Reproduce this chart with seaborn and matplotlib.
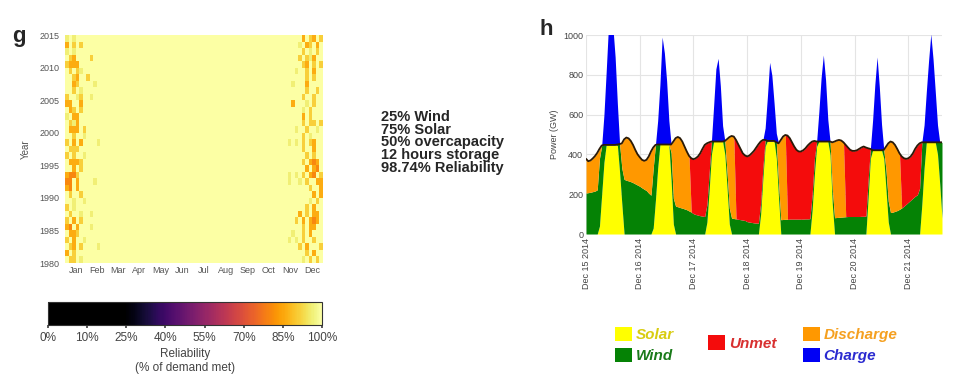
import numpy as np
import pandas as pd
import matplotlib
matplotlib.use("Agg")
import matplotlib.pyplot as plt
import seaborn as sns
from matplotlib.colors import ListedColormap
from matplotlib.patches import Patch

# ==============================
# Panel g data: reliability per 5-day bin and year
# ==============================
years = np.arange(2014, 1979, -1)  # top row first
# characters are reliability levels, first 10 bins (Jan-Feb) and last 14 bins (Oct-Dec)
jan_rows = [
    "1.1.......", "3.2.2.....", "1.1.......", ".23....2..", "2333......",
    ".2.21.....", "..23..2...", "..32....1.", "..2.1.....", "2..12..1..",
    "33..3.....", ".32.2.....", "1.33......", ".213......", ".333.2....",
    "..2..1....", "2.3.3....1", ".222......", "2.2..1....", ".3332.....",
    "..3.2.....", "3442......", "44.3....1.", "34.3......", ".2..2.....",
    "..1..1....", "2.1.......", ".2..1..1..", "2.3.2.....", "34.3...1..",
    ".332......", "2.3..1....", ".23.2....1", "3.2.......", ".22.1.....",
]
dec_rows = [
    "........3.23.2", ".......1.32.3.", "........2.1.2.", ".......2.213..", "........23.2.2",
    "......1..2.3..", ".........2.2..", ".....1...3....", ".........2..2.", "........2..2..",
    ".....3...1.2..", "........1.2...", "........3.2...", "........2.22.2", "......1..2..1.",
    "........2.1...", "....1.1.2.23..", "........2..3..", ".........2.2..", "........2.343.",
    ".........3.34.", "....1.1.2.34.2", "....1..1.2..33", "..........2..3", "...........3.3",
    "..........1.2.", ".........2.3..", ".......3.2.33.", "......2.3.343.", "........2.33..",
    ".....1..2.3...", "....1.1.2..2..", ".......2.3...2", ".........2.3..", "........1.2.2.",
]
level_pct = {".": 100, "1": 96, "2": 91, "3": 86, "4": 80}

cbar_vals = [0, 10, 25, 40, 55, 70, 85, 100]
months = ["Jan", "Feb", "Mar", "Apr", "May", "Jun", "Jul", "Aug", "Sep", "Oct", "Nov", "Dec"]
month_days = [31, 28, 31, 30, 31, 30, 31, 31, 30, 31, 30, 31]

mix_text = "25% Wind\n75% Solar\n50% overcapacity\n12 hours storage\n98.74% Reliability"

# ==============================
# Panel h data: hourly power, Dec 15 - Dec 21 2014 (GW)
# ==============================
demand = [
    378, 366, 370, 380, 392, 408, 428, 445, 448, 448, 448, 448, 448, 448, 450, 452, 456, 476, 485, 481, 468, 448, 423, 401,
    386, 373, 368, 373, 390, 415, 435, 448, 450, 450, 450, 450, 450, 450, 450, 465, 482, 488, 482, 465, 440, 415, 393, 381,
    376, 381, 390, 406, 428, 448, 456, 461, 465, 465, 465, 465, 465, 465, 468, 477, 487, 493, 490, 473, 451, 428, 406, 395,
    390, 395, 406, 418, 435, 451, 465, 473, 473, 468, 468, 468, 468, 461, 456, 473, 490, 498, 495, 482, 461, 440, 423, 415,
    415, 421, 431, 445, 456, 465, 468, 465, 465, 465, 465, 465, 465, 465, 461, 465, 470, 473, 470, 461, 448, 435, 423, 418,
    418, 421, 428, 435, 440, 435, 431, 428, 421, 421, 421, 421, 421, 423, 440, 456, 465, 461, 448, 428, 406, 390, 381, 378,
    381, 390, 406, 428, 445, 456, 461, 461, 461, 461, 461, 461, 461, 461, 461, 461,
]
solar = [
    0, 0, 0, 0, 0, 0, 40, 200, 360, 448, 448, 448, 448, 448, 445, 310, 150, 0, 0, 0, 0, 0, 0, 0,
    0, 0, 0, 0, 0, 0, 30, 170, 330, 450, 450, 450, 450, 450, 270, 50, 0, 0, 0, 0, 0, 0, 0, 0,
    0, 0, 0, 0, 0, 0, 60, 220, 400, 465, 465, 465, 465, 465, 400, 230, 50, 0, 0, 0, 0, 0, 0, 0,
    0, 0, 0, 0, 0, 0, 100, 280, 440, 468, 468, 468, 468, 380, 180, 0, 0, 0, 0, 0, 0, 0, 0, 0,
    0, 0, 0, 0, 0, 120, 300, 440, 465, 465, 465, 465, 465, 400, 150, 0, 0, 0, 0, 0, 0, 0, 0, 0,
    0, 0, 0, 0, 0, 0, 180, 380, 421, 421, 421, 421, 421, 380, 220, 60, 0, 0, 0, 0, 0, 0, 0, 0,
    0, 0, 0, 0, 0, 0, 150, 330, 461, 461, 461, 461, 461, 400, 250, 80,
]
wind = [
    206, 208, 210, 213, 216, 222, 340, 245, 88, 0, 0, 0, 0, 0, 5, 142, 180, 275, 270, 267, 263, 258, 252, 246,
    240, 232, 225, 218, 205, 195, 300, 278, 120, 0, 0, 0, 0, 0, 140, 130, 140, 137, 133, 130, 126, 122, 116, 110,
    102, 98, 95, 92, 90, 88, 88, 88, 65, 0, 0, 0, 0, 0, 68, 80, 80, 80, 78, 76, 74, 72, 70, 68,
    62, 60, 58, 56, 55, 55, 55, 55, 33, 0, 0, 0, 0, 81, 75, 72, 73, 74, 74, 75, 75, 75, 75, 75,
    75, 75, 76, 76, 77, 77, 78, 25, 0, 0, 0, 0, 0, 65, 80, 82, 83, 84, 85, 86, 87, 88, 88, 88,
    88, 88, 88, 89, 89, 90, 90, 48, 0, 0, 0, 0, 0, 43, 100, 105, 108, 110, 114, 118, 124, 131, 140, 150,
    160, 170, 180, 190, 197, 230, 311, 131, 0, 0, 0, 0, 0, 61, 211, 381,
]
discharge = [
    172, 158, 160, 167, 176, 186, 48, 0, 0, 0, 0, 0, 0, 0, 0, 0, 126, 201, 215, 214, 205, 190, 171, 155,
    146, 141, 143, 155, 185, 220, 105, 0, 0, 0, 0, 0, 0, 0, 40, 285, 342, 351, 349, 335, 314, 293, 277, 0,
    0, 0, 0, 0, 0, 0, 0, 0, 0, 0, 0, 0, 0, 0, 0, 167, 357, 413, 412, 0, 0, 0, 0, 0,
    0, 0, 0, 0, 0, 0, 0, 0, 0, 0, 0, 0, 0, 0, 201, 401, 417, 424, 0, 0, 0, 0, 0, 0,
    0, 0, 0, 0, 0, 0, 0, 0, 0, 0, 0, 0, 0, 0, 231, 383, 387, 389, 385, 375, 0, 0, 0, 0,
    0, 0, 0, 0, 0, 0, 0, 0, 0, 0, 0, 0, 0, 0, 120, 291, 357, 351, 334, 310, 282, 0, 0, 0,
    0, 0, 0, 0, 0, 0, 0, 0, 0, 0, 0, 0, 0, 0, 0, 0,
]
charge = [
    0, 0, 0, 0, 0, 0, 0, 0, 152, 367, 592, 652, 592, 442, 205, 0, 0, 0, 0, 0, 0, 0, 0, 0,
    0, 0, 0, 0, 0, 0, 0, 0, 120, 300, 540, 460, 320, 120, 0, 0, 0, 0, 0, 0, 0, 0, 0, 0,
    0, 0, 0, 0, 0, 0, 0, 0, 0, 180, 365, 418, 280, 80, 0, 0, 0, 0, 0, 0, 0, 0, 0, 0,
    0, 0, 0, 0, 0, 0, 0, 0, 60, 220, 395, 330, 190, 45, 0, 0, 0, 0, 0, 0, 0, 0, 0, 0,
    0, 0, 0, 0, 0, 0, 0, 0, 150, 320, 435, 310, 110, 0, 0, 0, 0, 0, 0, 0, 0, 0, 0, 0,
    0, 0, 0, 0, 0, 0, 0, 0, 150, 330, 469, 320, 130, 0, 0, 0, 0, 0, 0, 0, 0, 0, 0, 0,
    0, 0, 0, 0, 0, 0, 0, 87, 255, 409, 544, 419, 255, 87, 0, 0,
]
day_labels = ["Dec 15 2014", "Dec 16 2014", "Dec 17 2014", "Dec 18 2014",
              "Dec 19 2014", "Dec 20 2014", "Dec 21 2014"]

series_names = ["Solar", "Wind", "Discharge", "Unmet", "Charge"]
series_colors = {"Solar": "#ffff00", "Wind": "#058205", "Discharge": "#ff9800",
                 "Unmet": "#f40c0c", "Charge": "#0000f5"}
text_colors = {"Solar": "#d8cc10", "Wind": "#1a7a1a", "Discharge": "#f5a020",
               "Unmet": "#d83030", "Charge": "#2b2bd0"}

# ==============================
# Style
# ==============================
sns.set_theme(style="whitegrid")
plt.rcParams["font.family"] = ["Liberation Sans", "DejaVu Sans"]

fig = plt.figure(figsize=(9.79, 3.87), dpi=100)

# ---- g: heatmap ----
grid = np.full((len(years), 73), 100.0)
for i, (j, d) in enumerate(zip(jan_rows, dec_rows)):
    grid[i, :10] = [level_pct[c] for c in j]
    grid[i, 59:] = [level_pct[c] for c in d]
tick_pos = np.linspace(0, 1, len(cbar_vals))
grid_pos = np.interp(grid, cbar_vals, tick_pos)
hm_df = pd.DataFrame(grid_pos, index=years, columns=np.arange(73))

n_black = 73
cmap_colors = np.vstack([np.tile([0, 0, 0, 1], (n_black, 1)),
                         plt.cm.inferno(np.linspace(0, 1, 256 - n_black))])
rel_cmap = ListedColormap(cmap_colors)

ax_g = fig.add_axes([0.0664, 0.3204, 0.2635, 0.589])
sns.heatmap(hm_df, cmap=rel_cmap, vmin=0, vmax=1, cbar=False, ax=ax_g,
            xticklabels=False, yticklabels=False)
ax_g.grid(False)
ax_g.set_yticks(np.arange(0, len(years) + 1, 5))
ax_g.set_yticklabels([str(2015 - k) for k in range(0, len(years) + 1, 5)],
                     rotation=0, fontsize=6.5, color="#555555")
month_centers = (np.cumsum(month_days) - np.array(month_days) / 2) / 5
ax_g.set_xticks(month_centers)
ax_g.set_xticklabels(months, rotation=0, fontsize=6.5, color="#555555")
ax_g.tick_params(axis="y", pad=4, length=0)
ax_g.tick_params(axis="x", pad=2, length=0)
ax_g.set_ylabel("Year", fontsize=7, color="#555555", labelpad=6)
ax_g.set_xlabel("")

cax = fig.add_axes([0.049, 0.160, 0.280, 0.0594])
cb = fig.colorbar(ax_g.collections[0], cax=cax, orientation="horizontal")
cb.set_ticks(tick_pos)
cb.set_ticklabels([f"{v}%" for v in cbar_vals])
cb.ax.tick_params(labelsize=8.5, length=2, colors="#444444", pad=3)
cb.outline.set_edgecolor("#333333")
cb.outline.set_linewidth(0.8)
cb.set_label("Reliability\n(% of demand met)", fontsize=8.5, color="#444444", labelpad=3)

fig.text(0.0125, 0.905, "g", fontsize=16, fontweight="bold", va="center", ha="left")

# ---- middle text ----
fig.text(0.389, 0.632, mix_text, fontsize=10.5, fontweight="bold", va="center",
         ha="left", linespacing=0.9)

# ---- h: stacked power ----
hours = np.arange(len(demand))
dem = np.array(demand)
unmet = np.clip(dem - np.array(solar) - np.array(wind) - np.array(discharge), 0, None)
layers = {"Solar": solar, "Wind": wind, "Discharge": discharge, "Unmet": unmet, "Charge": charge}

ax_h = fig.add_axes([0.5986, 0.3953, 0.3636, 0.514])
ax_h.stackplot(hours, [layers[k] for k in series_names],
               colors=[series_colors[k] for k in series_names], linewidth=0)
sns.lineplot(x=hours, y=dem, ax=ax_h, color="#2a1a08", linewidth=1.3)
ax_h.set_xlim(0, hours[-1])
ax_h.set_ylim(0, 1000)
ax_h.set_yticks(np.arange(0, 1001, 200))
ax_h.set_xticks(np.arange(0, len(hours), 24))
ax_h.set_xticklabels(day_labels, rotation=90, fontsize=6.5, color="#444444")
ax_h.tick_params(axis="y", labelsize=6.5, labelcolor="#444444", pad=2, length=0)
ax_h.tick_params(axis="x", pad=3, length=0)
ax_h.set_ylabel("Power (GW)", fontsize=6.5, color="#444444", labelpad=3)
ax_h.grid(True, color="#e4e4e4", linewidth=0.8)
for sp in ax_h.spines.values():
    sp.set_visible(False)
ax_h.set_axisbelow(True)

fig.text(0.5515, 0.925, "h", fontsize=16, fontweight="bold", va="center", ha="left")

# ---- legend in three groups ----
groups = [(["Solar", "Wind"], 0.628, 0.1085),
          (["Unmet"], 0.7232, 0.1137),
          (["Discharge", "Charge"], 0.8202, 0.1085)]
for names, lx, ly in groups:
    handles = [Patch(facecolor=series_colors[n], edgecolor="none", label=n) for n in names]
    fig.legend(handles=handles, loc="center left", bbox_to_anchor=(lx, ly),
               frameon=False, borderpad=0, borderaxespad=0, handlelength=1.1,
               handleheight=1.1, handletextpad=0.25, labelspacing=0.35,
               labelcolor=[text_colors[n] for n in names],
               prop={"size": 11, "weight": "bold", "style": "italic"})

fig.savefig("out.png", dpi=100)
